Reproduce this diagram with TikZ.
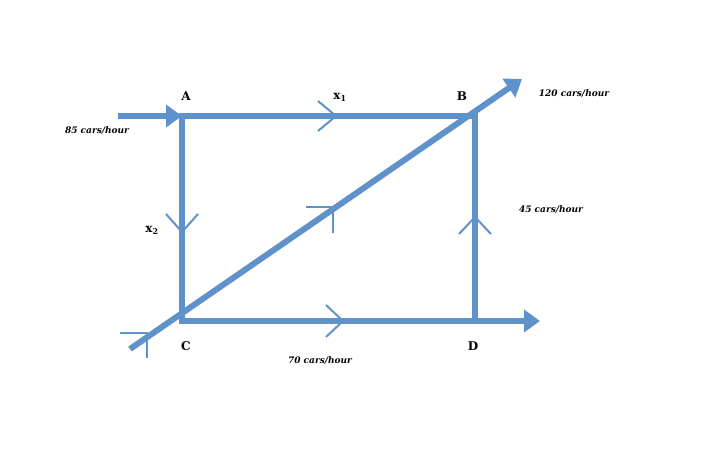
\documentclass[tikz,border=0pt]{standalone}
\usepackage{fontspec}
\setmainfont{DejaVu Serif}
\usetikzlibrary{arrows.meta}
\definecolor{lb}{HTML}{5F92CB}
\begin{document}
\begin{tikzpicture}[x=1pt,y=-1pt,
  road/.style={lb,line width=6pt},
  big/.style={road,-{Triangle[length=16pt,width=22pt]}},
  chev/.style={lb,line width=2pt},
  lbl/.style={font=\bfseries\itshape\fontsize{9}{10}\selectfont},
  pt/.style={font=\bfseries\fontsize{12}{13}\selectfont}]
\useasboundingbox (0,0) rectangle (701,450);
\coordinate (A) at (182,116);
\coordinate (B) at (475,116);
\coordinate (C) at (182,321);
\coordinate (D) at (475,321);
\coordinate (in) at (118,116);
\coordinate (out) at (540,321);
\coordinate (ds) at (130,349);
\coordinate (de) at (522,79);
\draw[road,line cap=rect] (A) -- (B) -- (D) -- (C) -- cycle;
\draw[big] (in) -- (A);
\draw[big] (D) -- (out);
\draw[big] (ds) -- (de);
% chevrons
\draw[chev] (318,101) -- (336,116) -- (318,131);
\draw[chev] (326,305) -- (343,321) -- (326,337);
\draw[chev] (166,214) -- (182,232) -- (198,214);
\draw[chev] (459,234) -- (475,217) -- (491,234);
\draw[chev] (306,207) -- (333,207) -- (333,233);
\draw[chev] (120,333) -- (147,333) -- (147,358);
\node[pt] (lA) at (186,96) {A};
\node[pt] (lB) at (462,96) {B};
\node[pt] (lC) at (186,346) {C};
\node[pt] (lD) at (473,346) {D};
\node[pt] (x1) at (340,97) {x\textsubscript{1}};
\node[pt] (x2) at (152,230) {x\textsubscript{2}};
\node[lbl] (l85) at (97,130) {85 cars/hour};
\node[lbl] (l120) at (574,93) {120 cars/hour};
\node[lbl] (l45) at (551,209) {45 cars/hour};
\node[lbl] (l70) at (320,360) {70 cars/hour};
\end{tikzpicture}
\end{document}
